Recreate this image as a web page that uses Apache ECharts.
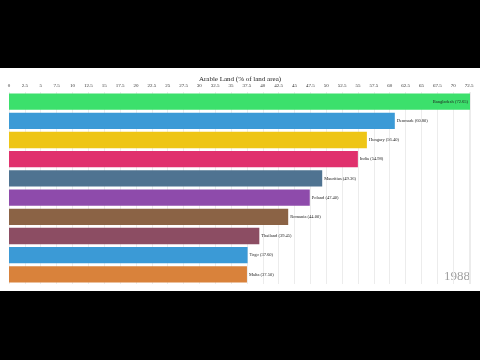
<!DOCTYPE html>
<html>
<head>
<meta charset="utf-8">
<script src="https://cdn.jsdelivr.net/npm/echarts@6/dist/echarts.min.js"></script>
<style>
html,body{margin:0;padding:0;background:#000;width:480px;height:360px;overflow:hidden;}
#chart{position:absolute;left:0;top:68px;width:480px;height:223px;background:#fff;}
</style>
</head>
<body>
<div id="chart"></div>
<script>
const countries = ["Bangladesh","Denmark","Hungary","India","Mauritius","Poland","Romania","Thailand","Togo","Malta"];
const values = [72.65, 60.80, 56.40, 54.98, 49.36, 47.40, 44.00, 39.45, 37.60, 37.50];
const colors = ["#3ce06c","#3b9ad6","#eec516","#e0316d","#4f7391","#8e4bab","#8b6345","#8c4d63","#3b9ad6","#d9823b"];
const year = "1988";
const titleText = "Arable Land (% of land area)";

const chart = echarts.init(document.getElementById('chart'), null, {renderer:'canvas'});
const font = "'Liberation Serif', 'DejaVu Serif', serif";
chart.setOption({
  animation:false,
  backgroundColor:'#fff',
  title:{text:titleText,left:'center',top:3,textStyle:{fontFamily:font,fontSize:7,fontWeight:'normal',color:'#222'}},
  grid:{left:9,right:10,top:24,height:192},
  xAxis:{type:'value',position:'top',min:0,max:'dataMax',interval:2.5,
    axisLine:{show:false},axisTick:{show:false},
    axisLabel:{fontFamily:font,fontSize:5,color:'#333',margin:4,showMaxLabel:false},
    splitLine:{lineStyle:{color:'#ececec',width:1}}},
  yAxis:{type:'category',inverse:true,data:countries,
    axisLine:{show:false},axisTick:{show:false},axisLabel:{show:false},splitLine:{show:false}},
  series:[{type:'bar',barCategoryGap:'15%',
    data:values.map((v,i)=>({value:v,itemStyle:{color:colors[i]},
      label:i===0?{position:'insideRight'}:{}})),
    label:{show:true,position:'right',distance:2,fontFamily:font,fontSize:4.5,color:'#222',
      formatter:p=>p.name+' ('+p.value.toFixed(2)+')'}}],
  graphic:[{type:'text',right:10,top:202,style:{text:year,font:"13px 'Liberation Serif', serif",fill:'#a0a0a0'}}]
});
</script>
</body>
</html>
